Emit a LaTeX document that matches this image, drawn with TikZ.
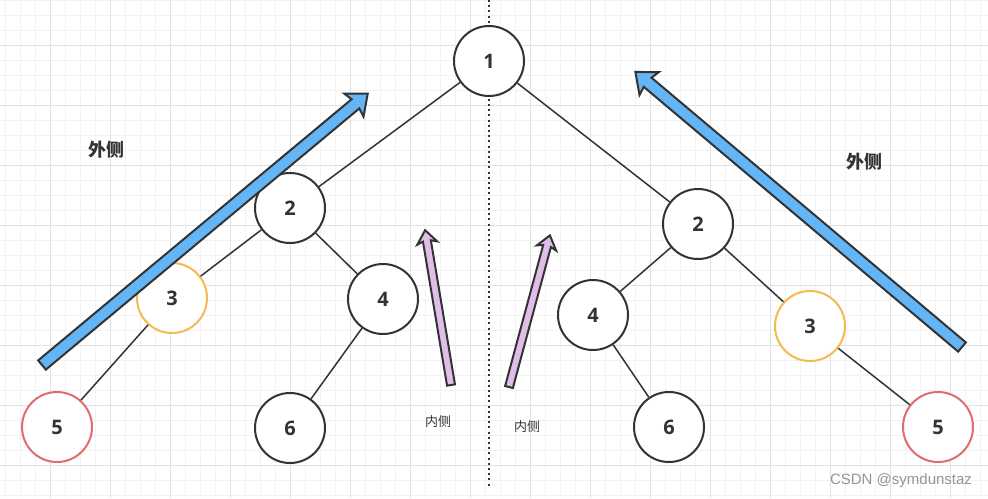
\documentclass[tikz,border=0pt]{standalone}
\usepackage{fontspec}
\setmainfont{Open Sans}
\setsansfont{Liberation Sans}
\newfontfamily\cjk{Noto Sans CJK SC}
\usetikzlibrary{arrows.meta}
\definecolor{ink}{RGB}{51,51,51}
\definecolor{gminor}{RGB}{242,242,242}
\definecolor{gmajor}{RGB}{226,226,226}
\definecolor{sky}{RGB}{100,181,246}
\definecolor{lilac}{RGB}{225,190,231}
\definecolor{amber}{RGB}{246,185,80}
\definecolor{rosy}{RGB}{224,108,110}

\tikzset{
	tn/.style={circle, draw=ink, line width=1pt, fill=white, minimum size=35pt, inner sep=0pt,
		text=ink, font=\bfseries\fontsize{10}{12}\selectfont},
	edge/.style={draw=ink, line width=0.75pt},
	fat/.style={draw=ink, line width=1pt, line join=miter}
}

% start x, start y, angle, length, half shaft, half head, head length, fill
\newcommand\fatarrow[8]{%
	\begin{scope}[shift={(#1,#2)}, rotate=#3]
		\draw[fat, fill=#8] (0,-#5) -- (#4-#7,-#5) -- (#4-#7-2,-#6) -- (#4,0)
			-- (#4-#7-2,#6) -- (#4-#7,#5) -- (0,#5) -- cycle;
	\end{scope}}

\begin{document}
\begin{tikzpicture}[x=0.5pt, y=-0.5pt]
		\useasboundingbox (0,0) rectangle (988,498);
		\fill[white] (0,0) rectangle (988,498);

		% grid
		\foreach \x in {5,20,...,980} \draw[gminor, line width=0.5pt] (\x,0) -- (\x,498);
		\foreach \y in {0,15,...,495} \draw[gminor, line width=0.5pt] (0,\y) -- (988,\y);
		\foreach \x in {50,110,...,950} \draw[gmajor, line width=0.5pt] (\x,0) -- (\x,498);
		\foreach \y in {45,105,...,465} \draw[gmajor, line width=0.5pt] (0,\y) -- (988,\y);

		\draw[ink, line width=1pt, dash pattern=on 1pt off 1.6pt] (489,0) -- (489,487);

		% left tree
		\node[tn] (r) at (489,61) {1};
		\node[tn] (l2) at (290,208) {2};
		\node[tn, draw=amber] (l3) at (172,298) {3};
		\node[tn] (l4) at (383,299) {4};
		\node[tn, draw=rosy] (l5) at (57,427) {5};
		\node[tn] (l6) at (290,428) {6};

		% right tree
		\node[tn] (r2) at (698,224) {2};
		\node[tn] (r4) at (593,315) {4};
		\node[tn, draw=amber] (r3) at (810,326) {3};
		\node[tn] (r6) at (669,427) {6};
		\node[tn, draw=rosy] (r5) at (938,427) {5};

		\draw[edge] (r) -- (l2);
		\draw[edge] (l2) -- (l3);
		\draw[edge] (l3) -- (l5);
		\draw[edge] (l2) -- (l4);
		\draw[edge] (l4) -- (l6);
		\draw[edge] (r) -- (r2);
		\draw[edge] (r2) -- (r4);
		\draw[edge] (r4) -- (r6);
		\draw[edge] (r2) -- (r3);
		\draw[edge] (r3) -- (r5);

		\fatarrow{42}{365}{39.8}{424}{6}{15}{16}{sky}
		\fatarrow{962}{347}{139.9}{427}{6}{15}{16}{sky}
		\fatarrow{451}{385}{99.5}{157}{4}{10}{11}{lilac}
		\fatarrow{509}{387}{74.9}{157}{4}{10}{11}{lilac}

		\node[text=ink, font=\cjk\bfseries\fontsize{9}{11}\selectfont] (lout) at (106,150) {外侧};
		\node[text=ink, font=\cjk\bfseries\fontsize{9}{11}\selectfont] (rout) at (864,162) {外侧};
		\node[text=ink, font=\cjk\fontsize{6.5}{8}\selectfont] (lin) at (438,422) {内侧};
		\node[text=ink, font=\cjk\fontsize{6.5}{8}\selectfont] (rin) at (527,427) {内侧};
		\node[text={rgb,255:red,150;green,150;blue,150}, font=\sffamily\fontsize{7.5}{9}\selectfont] (mark) at (901,481) {CSDN @symdunstaz};
	\end{tikzpicture}
\end{document}
